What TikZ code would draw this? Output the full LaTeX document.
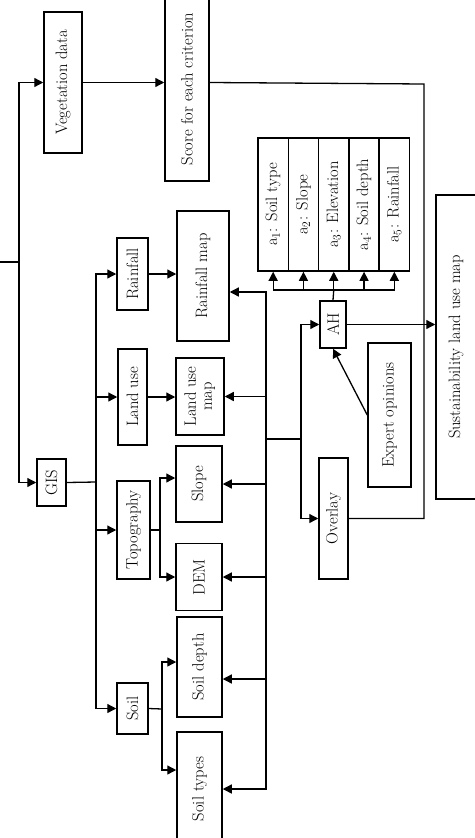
\documentclass[tikz,border=0pt]{standalone}
\usepackage{tikz}
\usetikzlibrary{positioning, arrows.meta}
\tikzset{caja/.style={draw, line width=1.5pt, inner sep=0pt, font=\fontsize{16.5}{19}\selectfont}}
\tikzset{flecha/.style={line width=1.3pt, -{Triangle[length=9pt,width=9pt]}}}
\tikzset{linea/.style={line width=1.3pt}}
\newcommand{\vtext}[1]{\rotatebox{90}{#1}}

\begin{document}
\begin{tikzpicture}[
                x=1pt, y=-1pt,
                every node/.style={caja}
            ]
                \useasboundingbox (0,0) rectangle (474,838);

                % first column
                \node[minimum width=38pt, minimum height=141pt] (veg) at (63,82.5) {\vtext{Vegetation data}};
                \node[minimum width=44pt, minimum height=184pt] (score) at (187,89) {\vtext{Score for each criterion}};
                \node[minimum width=29pt, minimum height=47pt] (gis) at (51.5,482.5) {\vtext{GIS}};

                % data layers
                \node[minimum width=31pt, minimum height=72pt] (rain) at (132.5,274) {\vtext{Rainfall}};
                \node[minimum width=29pt, minimum height=96pt] (landuse) at (132.5,397) {\vtext{Land use}};
                \node[minimum width=33pt, minimum height=98pt] (topo) at (133.5,530) {\vtext{Topography}};
                \node[minimum width=31pt, minimum height=51pt] (soil) at (132.5,708.5) {\vtext{Soil}};

                % maps
                \node[minimum width=52pt, minimum height=130pt] (rainmap) at (203,276) {\vtext{Rainfall map}};
                \node[minimum width=48pt, minimum height=77pt] (landmap) at (200,396.5) {\vtext{\begin{tabular}{@{}c@{}}Land use\\[-3pt]map\end{tabular}}};
                \node[minimum width=46pt, minimum height=76pt] (slope) at (199,484) {\vtext{Slope}};
                \node[minimum width=46pt, minimum height=67pt] (dem) at (199,577) {\vtext{DEM}};
                \node[minimum width=45pt, minimum height=100pt] (soildepth) at (199.5,667) {\vtext{Soil depth}};
                \node[minimum width=45pt, minimum height=114pt] (soiltypes) at (199.5,789) {\vtext{Soil types}};

                % criteria
                \foreach \i/\txt [count=\k from 0] in {1/Soil type, 2/Slope, 3/Elevation, 4/Soil depth, 5/Rainfall}
                    \node[minimum width=30.3pt, minimum height=133pt] (c\i) at (273.15+30.3*\k,204.5) {\vtext{a\textsubscript{\i}: \txt}};

                \node[minimum width=26pt, minimum height=47pt] (ah) at (333,324.5) {\vtext{AH}};
                \node[minimum width=43pt, minimum height=144pt] (expert) at (389.5,415) {\vtext{Expert opinions}};
                \node[minimum width=29pt, minimum height=121pt] (overlay) at (333.5,518.5) {\vtext{Overlay}};
                \node[minimum width=40pt, minimum height=304pt] (sust) at (456,347) {\vtext{Sustainability land use map}};

                % junctions
                \coordinate (in) at (0,262);
                \coordinate (j1) at (19,262);
                \coordinate (gb) at (96,482);
                \coordinate (tb) at (160,530);
                \coordinate (sb) at (162,709);
                \coordinate (rb) at (266,439);
                \coordinate (ob) at (301,439);
                \coordinate (cb) at (333.75,290);
                \coordinate (sc) at (424,84);

                \draw[linea] (in) -- (j1);
                \draw[flecha] (j1) |- (veg.west);
                \draw[flecha] (j1) |- (gis.west);
                \draw[flecha] (veg.east) -- (veg.east -| score.west);
                \draw[linea] (veg.east -| score.east) -- (sc) |- (overlay.east);

                \draw[linea] (gis.east) -- (gb);
                \foreach \n in {rain, landuse, topo, soil}
                    \draw[flecha] (gb) |- (\n.west);
                \draw[flecha] (rain.east) -- (rain.east -| rainmap.west);
                \draw[flecha] (landuse.east) -- (landuse.east -| landmap.west);

                \draw[linea] (topo.east) -- (tb);
                \draw[flecha] (tb) |- ([yshift=6pt]slope.west);
                \draw[flecha] (tb) |- (dem.west);
                \draw[linea] (soil.east) -- (sb);
                \draw[flecha] (sb) |- ([yshift=5pt]soildepth.west);
                \draw[flecha] (sb) |- ([yshift=19pt]soiltypes.west);

                % right bus
                \draw[flecha] (rb) |- ([yshift=-16pt]rainmap.east);
                \draw[flecha] (rb) |- (landmap.east);
                \draw[flecha] (rb) |- (slope.east);
                \draw[flecha] (rb) |- (dem.east);
                \draw[flecha] (rb) |- ([yshift=-12pt]soildepth.east);
                \draw[flecha] (rb) |- (soiltypes.east);
                \draw[linea] (rb) -- (ob);
                \draw[flecha] (ob) |- (ah.west);
                \draw[flecha] (ob) |- (overlay.west);

                % AH
                \draw[linea] (ah.north) -- (cb);
                \foreach \i in {1,...,5}
                    \draw[flecha] (cb) -| (c\i.south);
                \draw[flecha] (ah.east) -- (ah.east -| sust.west);
                \draw[flecha] (expert.west) -- (ah.south);
            \end{tikzpicture}
\end{document}
